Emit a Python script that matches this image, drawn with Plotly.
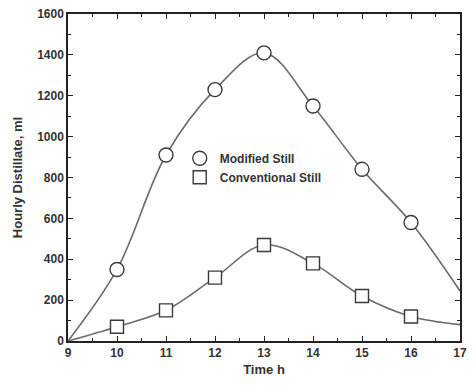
import plotly.graph_objects as go

hours = [9, 10, 11, 12, 13, 14, 15, 16, 17]
modified = [0, 350, 910, 1230, 1410, 1150, 840, 580, 245]
conventional = [0, 70, 150, 310, 470, 380, 220, 120, 80]
marker_hours = hours[1:-1]

line_col = "#6b6b6b"
edge_col = "#3a3a3a"
txt_col = "#333333"
font_main = "Liberation Sans, Arial, sans-serif"

fig = go.Figure()
for name, vals, sym in [("Modified Still", modified, "circle"),
                        ("Conventional Still", conventional, "square")]:
    fig.add_trace(go.Scatter(x=hours, y=vals, mode="lines",
                             line=dict(color=line_col, width=1.6, shape="spline", smoothing=1.0),
                             showlegend=False, hoverinfo="skip"))
    fig.add_trace(go.Scatter(x=marker_hours, y=vals[1:-1], mode="markers", name=name,
                             marker=dict(symbol=sym, size=14 if sym == "circle" else 13,
                                         color="white", line=dict(color=edge_col, width=1.4))))

axis_common = dict(showline=True, linecolor="#222222", linewidth=1.5, mirror="ticks",
                   ticks="inside", ticklen=5, tickcolor="#222222", tickwidth=1.2,
                   showgrid=False, zeroline=False,
                   tickfont=dict(family=font_main, size=12, color=txt_col, weight="bold"))

fig.update_layout(
    width=474, height=387,
    margin=dict(l=68, r=7, t=9, b=46),
    paper_bgcolor="white", plot_bgcolor="white",
    xaxis=dict(range=[9, 17], dtick=1, tick0=9,
               minor=dict(ticks="inside", ticklen=3, dtick=0.5, tickcolor="#222222"),
               title=dict(text="Time h", standoff=6,
                          font=dict(family=font_main, size=13, color=txt_col, weight="bold")),
               **axis_common),
    yaxis=dict(range=[0, 1600], dtick=200, tick0=0,
               minor=dict(ticks="inside", ticklen=3, dtick=100, tickcolor="#222222"),
               title=dict(text="Hourly Distillate, ml", standoff=12,
                          font=dict(family=font_main, size=13, color=txt_col, weight="bold")),
               **axis_common),
    legend=dict(x=0.285, y=0.603, xanchor="left", yanchor="top",
                bgcolor="rgba(0,0,0,0)", borderwidth=0,
                font=dict(family=font_main, size=12, color=txt_col, weight="bold"),
                itemwidth=30, tracegroupgap=2),
    showlegend=True,
)

fig.write_html("out.html")
